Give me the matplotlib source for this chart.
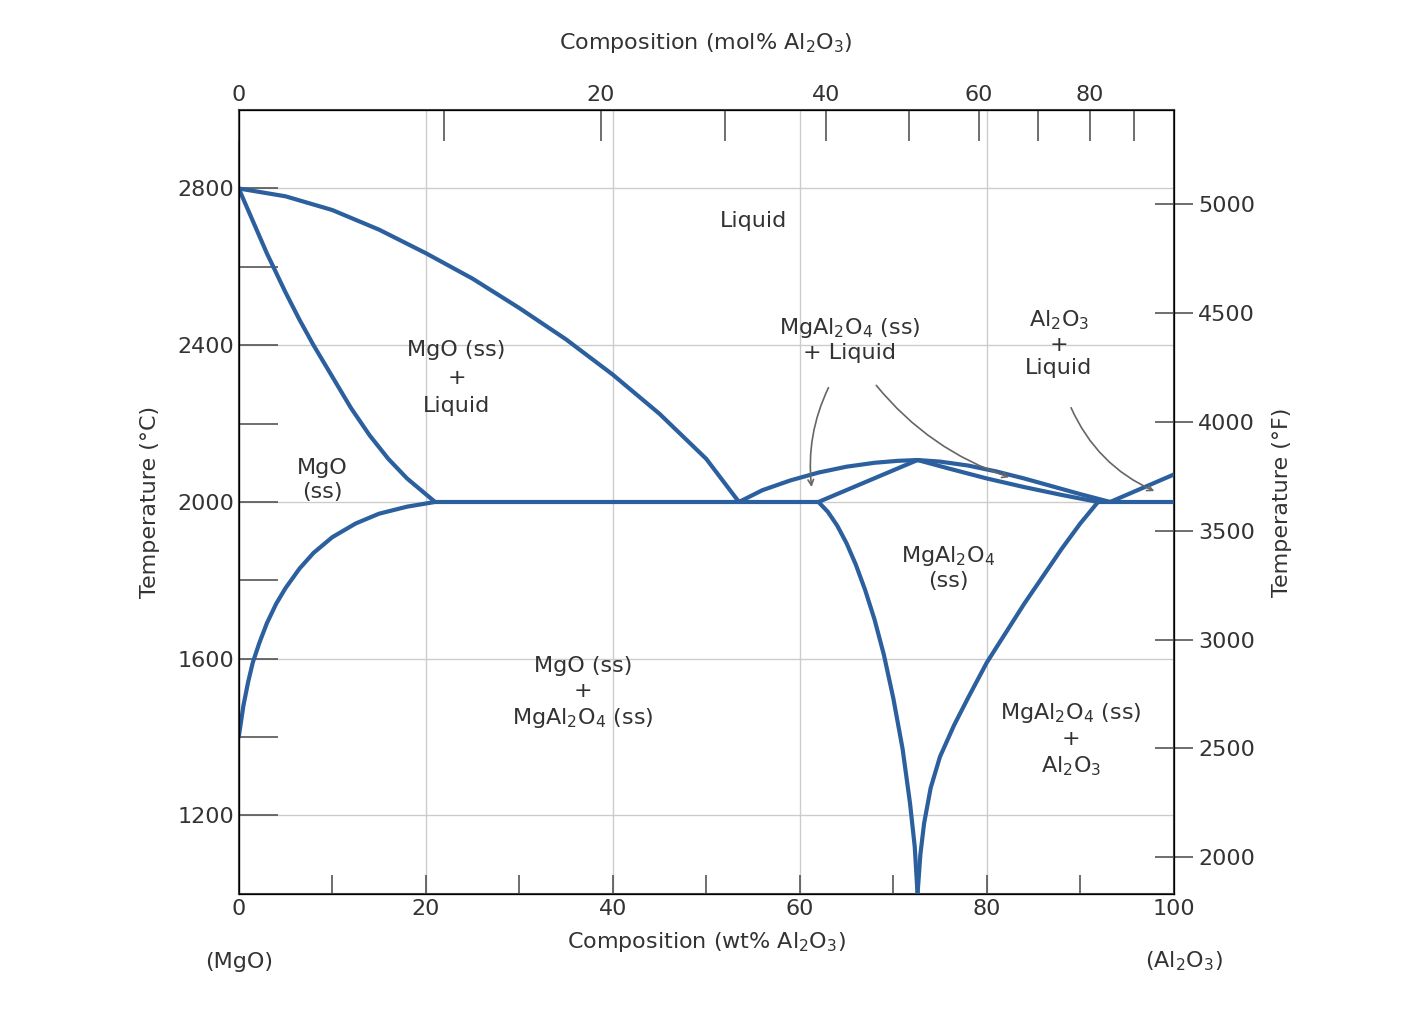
import numpy as np
import matplotlib
matplotlib.use("Agg")
import matplotlib.pyplot as plt
from matplotlib.ticker import FixedLocator

plt.rcParams['font.family'] = 'DejaVu Sans'
plt.rcParams['mathtext.fontset'] = 'dejavusans'

# phase boundaries (wt% Al2O3, degC)
liq_mgo_x = [0, 5, 10, 15, 20, 25, 30, 35, 40, 45, 50, 53.5]
liq_mgo_t = [2800, 2780, 2745, 2695, 2635, 2570, 2495, 2415, 2325, 2225, 2110, 2000]
sol_mgo_x = [0, 1, 2, 3, 4, 5, 6.5, 8, 10, 12, 14, 16, 18, 21]
sol_mgo_t = [2800, 2745, 2690, 2635, 2585, 2535, 2465, 2400, 2320, 2240, 2170, 2110, 2060, 2000]
solv_mgo_x = [0, 0.5, 1, 1.5, 2.2, 3, 4, 5, 6.5, 8, 10, 12.5, 15, 18, 21]
solv_mgo_t = [1400, 1480, 1540, 1590, 1640, 1690, 1740, 1780, 1830, 1870, 1910, 1945, 1970, 1988, 2000]
eut1_x = [21, 62]; eut1_t = [2000, 2000]
eut2_x = [91.9, 100]; eut2_t = [2000, 2000]
liq_sp_x = [53.5, 56, 59, 62, 65, 68, 70.5, 72.6, 75, 78, 81, 84, 87, 90, 93.2]
liq_sp_t = [2000, 2030, 2055, 2075, 2090, 2100, 2105, 2107, 2103, 2093, 2078, 2060, 2040, 2020, 2000]
sol_sp_l_x = [62, 72.6]; sol_sp_l_t = [2000, 2107]
sol_sp_r_x = [72.6, 76, 80, 84, 88, 91.9]
sol_sp_r_t = [2107, 2085, 2060, 2038, 2018, 2000]
solv_sp_l_x = [62, 63, 64, 65, 66, 67, 68, 69, 70, 71, 71.8, 72.3, 72.6]
solv_sp_l_t = [2000, 1975, 1940, 1895, 1840, 1775, 1700, 1610, 1500, 1370, 1230, 1120, 1000]
solv_sp_r_x = [72.6, 72.9, 73.3, 74, 75, 76.5, 78, 80, 82, 84, 86, 88, 90, 91.9]
solv_sp_r_t = [1000, 1100, 1180, 1270, 1350, 1430, 1500, 1590, 1665, 1740, 1810, 1880, 1945, 2000]
liq_al_x = [93.2, 100]; liq_al_t = [2000, 2070]

wt_major = [0, 20, 40, 60, 80, 100]
wt_minor = [10, 30, 50, 70, 90]
c_major = [1200, 1600, 2000, 2400, 2800]
c_minor = [1400, 1800, 2200, 2600]
f_major = [2000, 2500, 3000, 3500, 4000, 4500, 5000]
mol_major = [0, 20, 40, 60, 80]
mol_minor = [10, 30, 50, 70, 90]

def mol2wt(m):
    m = np.asarray(m, float)
    return 100 * m * 101.96 / (m * 101.96 + (100 - m) * 40.30)

fig = plt.figure(figsize=(14.21, 10.10), dpi=100)
ax = fig.add_axes([0.168, 0.115, 0.658, 0.776])
col = '#2b5f9e'
for xs, ts in [(liq_mgo_x, liq_mgo_t), (sol_mgo_x, sol_mgo_t), (solv_mgo_x, solv_mgo_t),
               (eut1_x, eut1_t), (eut2_x, eut2_t), (liq_sp_x, liq_sp_t),
               (sol_sp_l_x, sol_sp_l_t), (sol_sp_r_x, sol_sp_r_t),
               (solv_sp_l_x, solv_sp_l_t), (solv_sp_r_x, solv_sp_r_t), (liq_al_x, liq_al_t)]:
    ax.plot(xs, ts, color=col, lw=3, solid_capstyle='round', solid_joinstyle='round', zorder=3)

ax.set_xlim(0, 100)
ax.set_ylim(1000, 3000)
ax.xaxis.set_major_locator(FixedLocator(wt_major))
ax.xaxis.set_minor_locator(FixedLocator(wt_minor))
ax.set_xticklabels([str(v) for v in wt_major], color='#333333')
ax.yaxis.set_major_locator(FixedLocator(c_major))
ax.yaxis.set_minor_locator(FixedLocator(c_minor))
ax.set_yticklabels([str(v) for v in c_major], color='#333333')
ax.grid(True, which='major', color='#cccccc', lw=1)
ax.tick_params(which='both', direction='in', labelsize=16, length=28, width=1.2, color='#555555')
ax.tick_params(axis='x', which='both', length=14)
for s in ax.spines.values():
    s.set_color('#444444'); s.set_linewidth(1.5)
ax.set_ylabel('Temperature (°C)', fontsize=16, color='#333333', labelpad=12)
ax.set_xlabel(r'Composition (wt% Al$_2$O$_3$)', fontsize=16, color='#333333', labelpad=8)
fig.text(0.168, 0.042, '(MgO)', ha='center', fontsize=16, color='#333333')
fig.text(0.833, 0.042, r'(Al$_2$O$_3$)', ha='center', fontsize=16, color='#333333')

# right axis (degF)
axr = ax.twinx()
axr.set_ylim(1000 * 1.8 + 32, 3000 * 1.8 + 32)
axr.yaxis.set_major_locator(FixedLocator(f_major))
axr.set_yticklabels([str(v) for v in f_major], color='#333333')
axr.tick_params(labelsize=16, length=28, width=1.2, color='#555555', direction='inout')
axr.set_ylabel('Temperature (°F)', fontsize=16, color='#333333', labelpad=12)

# top axis (mol%)
axt = ax.twiny()
axt.set_xlim(0, 100)
axt.xaxis.set_major_locator(FixedLocator(mol2wt(mol_major)))
axt.xaxis.set_minor_locator(FixedLocator(mol2wt(mol_minor)))
axt.set_xticklabels([str(m) for m in mol_major], color='#333333')
axt.tick_params(which='both', direction='in', labelsize=16, length=22, width=1.2, color='#555555')
axt.set_xlabel(r'Composition (mol% Al$_2$O$_3$)', fontsize=16, color='#333333', labelpad=26)

fs = 16
tc = '#333333'
ax.text(55.1, 2718, 'Liquid', ha='center', va='center', fontsize=fs, color=tc)
ax.text(23.3, 2316, 'MgO (ss)\n+\nLiquid', ha='center', va='center', fontsize=fs, color=tc, linespacing=1.5)
ax.text(8.9, 2056, 'MgO\n(ss)', ha='center', va='center', fontsize=fs, color=tc, linespacing=1.3)
ax.text(65.3, 2415, 'MgAl$_2$O$_4$ (ss)\n+ Liquid', ha='center', va='center', fontsize=fs, color=tc, linespacing=1.2)
ax.text(87.7, 2405, 'Al$_2$O$_3$\n+\nLiquid', ha='center', va='center', fontsize=fs, color=tc, linespacing=1.2)
ax.text(75.9, 1832, 'MgAl$_2$O$_4$\n(ss)', ha='center', va='center', fontsize=fs, color=tc, linespacing=1.2)
ax.text(36.8, 1513, 'MgO (ss)\n+\nMgAl$_2$O$_4$ (ss)', ha='center', va='center', fontsize=fs, color=tc, linespacing=1.3)
ax.text(89, 1394, 'MgAl$_2$O$_4$ (ss)\n+\nAl$_2$O$_3$', ha='center', va='center', fontsize=fs, color=tc, linespacing=1.3)

ap = dict(arrowstyle='->', color='#666666', lw=1.2)
ax.annotate('', xy=(61.3, 2031), xytext=(63.2, 2298), arrowprops=dict(connectionstyle='arc3,rad=0.15', **ap))
ax.annotate('', xy=(82.7, 2061), xytext=(68.0, 2303), arrowprops=dict(connectionstyle='arc3,rad=0.15', **ap))
ax.annotate('', xy=(98.2, 2025), xytext=(88.9, 2247), arrowprops=dict(connectionstyle='arc3,rad=0.2', **ap))

fig.savefig('out.png', dpi=100, facecolor='white')
